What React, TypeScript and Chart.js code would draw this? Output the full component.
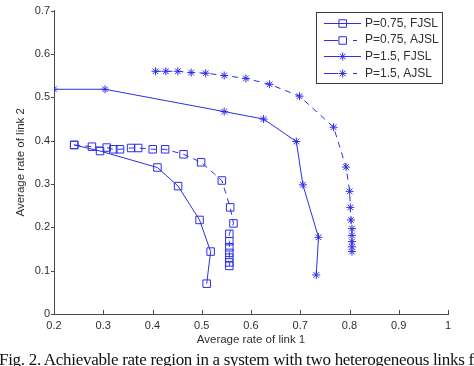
import React, { useEffect, useRef } from "react";
import { Chart, registerables } from "chart.js";

Chart.register(...registerables);

// ---- data ----
const fjsl075X = [0.241, 0.2935, 0.41, 0.452, 0.4955, 0.518, 0.51];
const fjsl075Y = [0.39, 0.376, 0.338, 0.295, 0.217, 0.144, 0.07];

const ajsl075X = [0.241, 0.277, 0.307, 0.3205, 0.334, 0.3565, 0.371, 0.4005, 0.4256, 0.463, 0.4987, 0.5408, 0.5577, 0.5644, 0.556, 0.556, 0.556, 0.556, 0.556, 0.556, 0.556];
const ajsl075Y = [0.39, 0.386, 0.384, 0.38, 0.38, 0.383, 0.383, 0.38, 0.38, 0.3685, 0.35, 0.308, 0.246, 0.209, 0.185, 0.168, 0.154, 0.141, 0.13, 0.119, 0.111];

const fjsl15X = [0.2, 0.3037, 0.5455, 0.6255, 0.692, 0.7054, 0.737, 0.7325];
const fjsl15Y = [0.5185, 0.5185, 0.467, 0.4497, 0.398, 0.298, 0.177, 0.09];

const ajsl15X = [0.406, 0.427, 0.4514, 0.4785, 0.508, 0.5455, 0.5896, 0.6377, 0.6986, 0.7677, 0.793, 0.8003, 0.8016, 0.803, 0.805, 0.805, 0.805, 0.805, 0.805];
const ajsl15Y = [0.56, 0.56, 0.56, 0.557, 0.5556, 0.5503, 0.5435, 0.53, 0.5026, 0.431, 0.339, 0.283, 0.246, 0.217, 0.197, 0.181, 0.167, 0.155, 0.144];

const xTicks = [0.2, 0.3, 0.4, 0.5, 0.6, 0.7, 0.8, 0.9, 1];
const yTicks = [0, 0.1, 0.2, 0.3, 0.4, 0.5, 0.6, 0.7];

const seriesLabels = ["P=0.75, FJSL", "P=0.75, AJSL", "P=1.5, FJSL", "P=1.5, AJSL"];
const xTitle = "Average rate of link 1";
const yTitle = "Average rate of link 2";
const caption = "Fig. 2.  Achievable rate region in a system with two heterogeneous links f";

const BLUE = "rgb(45,45,235)";
const AXIS = "#4a4a4a";
const TEXT = "#303030";
const FONT = "'Liberation Sans', Arial, sans-serif";

const zip = (xs: number[], ys: number[]) => xs.map((x, i) => ({ x, y: ys[i] }));
const fmt = (v: number) => String(Math.round(v * 10) / 10);

const styles = [
  { style: "rect", radius: 5.3, dash: [] as number[] },
  { style: "rect", radius: 5.3, dash: [6, 5] },
  { style: "star", radius: 4, dash: [] as number[] },
  { style: "star", radius: 4, dash: [6, 5] },
];

const matlabPlugin = {
  id: "matlabDecor",
  afterDraw(chart: any) {
    const ctx = chart.ctx as CanvasRenderingContext2D;
    const xs = chart.scales.x;
    const ys = chart.scales.y;
    const { left, bottom } = chart.chartArea;
    ctx.save();
    ctx.strokeStyle = AXIS;
    ctx.lineWidth = 1;
    ctx.beginPath();
    xTicks.forEach((v) => {
      const px = Math.round(xs.getPixelForValue(v)) + 0.5;
      ctx.moveTo(px, bottom);
      ctx.lineTo(px, bottom - 4);
    });
    yTicks.forEach((v) => {
      const py = Math.round(ys.getPixelForValue(v)) + 0.5;
      ctx.moveTo(left - 3, py);
      ctx.lineTo(left, py);
    });
    ctx.stroke();

    // legend
    const bx = 316.5, by = 12.5, bw = 126, bh = 71;
    ctx.fillStyle = "#ffffff";
    ctx.fillRect(bx, by, bw, bh);
    ctx.strokeStyle = "#3a3a3a";
    ctx.strokeRect(bx, by, bw, bh);
    const rowY = [22.7, 39.5, 56.3, 73];
    seriesLabels.forEach((label, i) => {
      const y = rowY[i];
      const st = styles[i];
      ctx.strokeStyle = BLUE;
      ctx.lineWidth = 1;
      ctx.beginPath();
      if (st.dash.length) ctx.setLineDash([14, 15, 4, 10]);
      else ctx.setLineDash([]);
      ctx.moveTo(324, Math.round(y) + 0.5);
      ctx.lineTo(361, Math.round(y) + 0.5);
      ctx.stroke();
      ctx.setLineDash([]);
      const mx = 342.7, my = Math.round(y) + 0.5;
      ctx.beginPath();
      if (st.style === "rect") {
        const s = st.radius * Math.SQRT1_2;
        ctx.rect(mx - s, my - s, 2 * s, 2 * s);
      } else {
        const r = st.radius;
        const d = r * Math.SQRT1_2;
        ctx.moveTo(mx - r, my); ctx.lineTo(mx + r, my);
        ctx.moveTo(mx, my - r); ctx.lineTo(mx, my + r);
        ctx.moveTo(mx - d, my - d); ctx.lineTo(mx + d, my + d);
        ctx.moveTo(mx - d, my + d); ctx.lineTo(mx + d, my - d);
      }
      ctx.stroke();
      ctx.fillStyle = TEXT;
      ctx.font = `12px ${FONT}`;
      ctx.textBaseline = "middle";
      ctx.textAlign = "left";
      ctx.fillText(label, 365, y + 0.5);
    });
    ctx.restore();
  },
};

export default function App() {
  const ref = useRef<HTMLCanvasElement | null>(null);

  useEffect(() => {
    if (!ref.current) return;
    const data = [
      zip(fjsl075X, fjsl075Y),
      zip(ajsl075X, ajsl075Y),
      zip(fjsl15X, fjsl15Y),
      zip(ajsl15X, ajsl15Y),
    ];
    const chart = new Chart(ref.current, {
      type: "line",
      data: {
        datasets: data.map((d, i) => ({
          label: seriesLabels[i],
          data: d,
          borderColor: BLUE,
          backgroundColor: "rgba(0,0,0,0)",
          borderWidth: 1,
          borderDash: styles[i].dash,
          pointStyle: styles[i].style as any,
          pointRadius: styles[i].radius,
          pointBorderWidth: 1,
          pointBorderColor: BLUE,
          pointBackgroundColor: "rgba(0,0,0,0)",
          tension: 0,
          fill: false,
        })),
      },
      options: {
        animation: false,
        responsive: false,
        maintainAspectRatio: false,
        layout: { padding: { left: 0, right: 26, top: 6, bottom: 0 } },
        plugins: {
          legend: { display: false },
          tooltip: { enabled: false },
          title: { display: false },
        },
        scales: {
          x: {
            type: "linear",
            min: 0.2,
            max: 1,
            afterBuildTicks: (s: any) => {
              s.ticks = xTicks.map((v) => ({ value: v }));
            },
            afterFit: (s: any) => {
              s.height = 52;
            },
            grid: { display: false, drawTicks: false },
            border: { display: true, color: AXIS, width: 1 },
            ticks: {
              padding: 5,
              color: TEXT,
              font: { family: FONT, size: 11 },
              maxRotation: 0,
              autoSkip: false,
              callback: (v: any) => fmt(Number(v)),
            },
            title: {
              display: true,
              text: xTitle,
              color: TEXT,
              font: { family: FONT, size: 11.5 },
              padding: { top: 0, bottom: 19 },
            },
          },
          y: {
            type: "linear",
            min: 0,
            max: 0.7,
            afterBuildTicks: (s: any) => {
              s.ticks = yTicks.map((v) => ({ value: v }));
            },
            afterFit: (s: any) => {
              s.width = 54;
            },
            grid: { display: false, drawTicks: false },
            border: { display: true, color: AXIS, width: 1 },
            ticks: {
              padding: 4,
              color: TEXT,
              font: { family: FONT, size: 11 },
              autoSkip: false,
              callback: (v: any) => fmt(Number(v)),
            },
            title: {
              display: true,
              text: yTitle,
              color: TEXT,
              font: { family: FONT, size: 11.5 },
              padding: { top: 14, bottom: 0 },
            },
          },
        },
      },
      plugins: [matlabPlugin],
    });
    return () => chart.destroy();
  }, []);

  return (
    <div style={{ position: "absolute", left: 0, top: 0, width: 474, height: 366, overflow: "hidden", background: "#fff" }}>
      <canvas ref={ref} width={474} height={366} style={{ display: "block", width: 474, height: 366 }} />
      <div
        style={{
          position: "absolute",
          left: -1,
          top: 350,
          fontFamily: "'Liberation Serif', 'DejaVu Serif', serif",
          fontSize: 17,
          lineHeight: "20px",
          letterSpacing: "-0.3px",
          whiteSpace: "nowrap",
          color: "#111",
        }}
      >
        {caption}
      </div>
    </div>
  );
}
